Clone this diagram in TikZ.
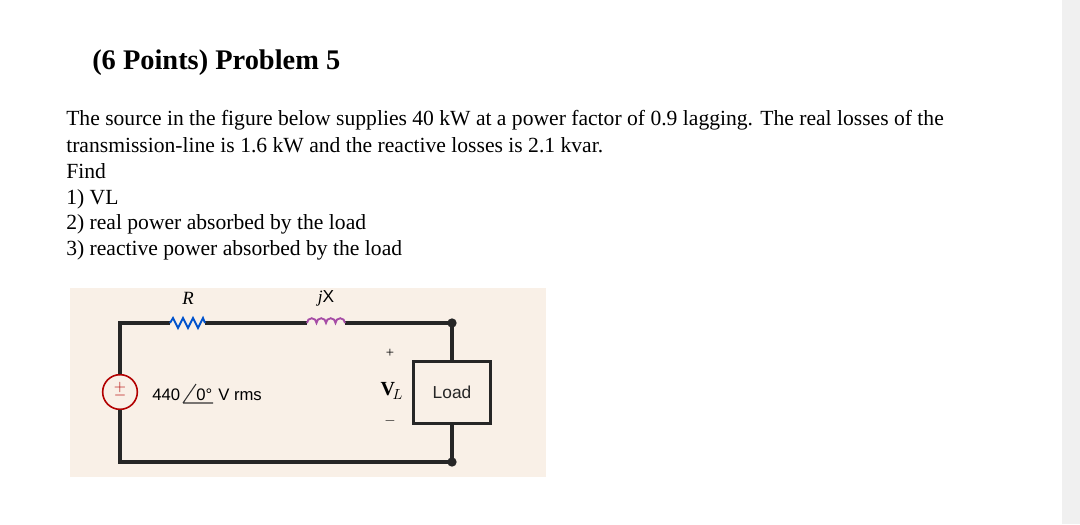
\documentclass[tikz,border=0pt]{standalone}
\usepackage{fontspec}
\setmainfont{Liberation Serif}
\newfontfamily\arialf{Liberation Sans}
\begin{document}
\begin{tikzpicture}[x=0.75pt,y=-0.75pt,
  txt/.style={anchor=base west,inner sep=0pt,font=\fontsize{16.2}{18}\selectfont},
  wire/.style={line width=2.4pt,black!85},
  dot/.style={circle,fill=black!85,inner sep=0pt,minimum size=7pt}]
\useasboundingbox (0,0) rectangle (1080,524);
\fill[white] (0,0) rectangle (1080,524);
\fill[black!6] (1062,0) rectangle (1080,524);
\node[txt,font=\fontsize{21.3}{24}\selectfont\bfseries] (title) at (92,70) {(6 Points) Problem 5};
\node[txt] (l1) at (66,126) {The source in the figure below supplies 40 kW at a power factor of 0.9 lagging. The real losses of the};
\node[txt] (l2) at (66,152) {transmission-line is 1.6 kW and the reactive losses is 2.1 kvar.};
\node[txt] (l3) at (66,178) {Find};
\node[txt] (l4) at (66,204) {1) VL};
\node[txt] (l5) at (66,229) {2) real power absorbed by the load};
\node[txt] (l6) at (66,255) {3) reactive power absorbed by the load};
% circuit
\fill[orange!15!brown!12] (70,288) rectangle (546,477);
\coordinate (tl) at (120,323);
\coordinate (bl) at (120,462);
\coordinate (tr) at (452,323);
\coordinate (br) at (452,462);
\coordinate (ra) at (170,323);
\coordinate (rb) at (205,323);
\coordinate (la) at (307,323);
\coordinate (lb) at (345,323);
\node[draw=red!70!black,line width=1.2pt,circle,minimum size=26pt,inner sep=0pt,
  text=red!70!black,font=\fontsize{12}{9}\selectfont,align=center] (src) at (120,392) {$+$\\[-3pt]$-$};
\node[draw,line width=2.4pt,black!85,minimum width=58pt,minimum height=47pt,inner sep=0pt,
  font=\arialf\fontsize{13}{14}\selectfont] (load) at (452,392.5) {Load};
\draw[wire] (src.north) -- (tl) -- (ra);
\draw[wire] (rb) -- (la);
\draw[wire] (lb) -- (tr) -- (load.north);
\draw[wire] (src.south) -- (bl) -- (br) -- (load.south);
\draw[line width=1.4pt,blue!60!cyan!80!black] (ra) -- ++(3,-5) -- ++(5,10) -- ++(5,-10) -- ++(5,10) -- ++(5,-10) -- ++(5,10) -- ++(5,-10) -- (rb);
\draw[line width=1.4pt,violet!70] (la) arc(180:360:4.75) arc(180:360:4.75) arc(180:360:4.75) arc(180:360:4.75);
\node[dot] (d1) at (tr) {};
\node[dot] (d2) at (br) {};
\node[font=\fontsize{14}{14}\selectfont\itshape] (rl) at (188,298) {R};
\node[font=\arialf\fontsize{13}{14}\selectfont] (xl) at (326,298) {\textit{\rmfamily j}X};
\node[anchor=base west,font=\arialf\fontsize{12.5}{14}\selectfont,inner sep=0pt] (vnum) at (152,400) {440};
\node[anchor=base west,font=\arialf\fontsize{12.5}{14}\selectfont,inner sep=0pt] (vang) at (196,400) {0°};
\node[anchor=base west,font=\arialf\fontsize{12.5}{14}\selectfont,inner sep=0pt] (vrms) at (218,400) {V rms};
\draw[line width=0.8pt,black!80] (183,403) -- (196,384) (183,403) -- (213,403);
\node[font=\fontsize{11}{11}\selectfont] (vp) at (390,353) {+};
\node[font=\fontsize{15}{15}\selectfont,inner sep=1pt] (vl) at (392,391) {$\mathbf{V}_{\!L}$};
\node[font=\fontsize{11}{11}\selectfont] (vm) at (390,421) {$-$};
\end{tikzpicture}
\end{document}
